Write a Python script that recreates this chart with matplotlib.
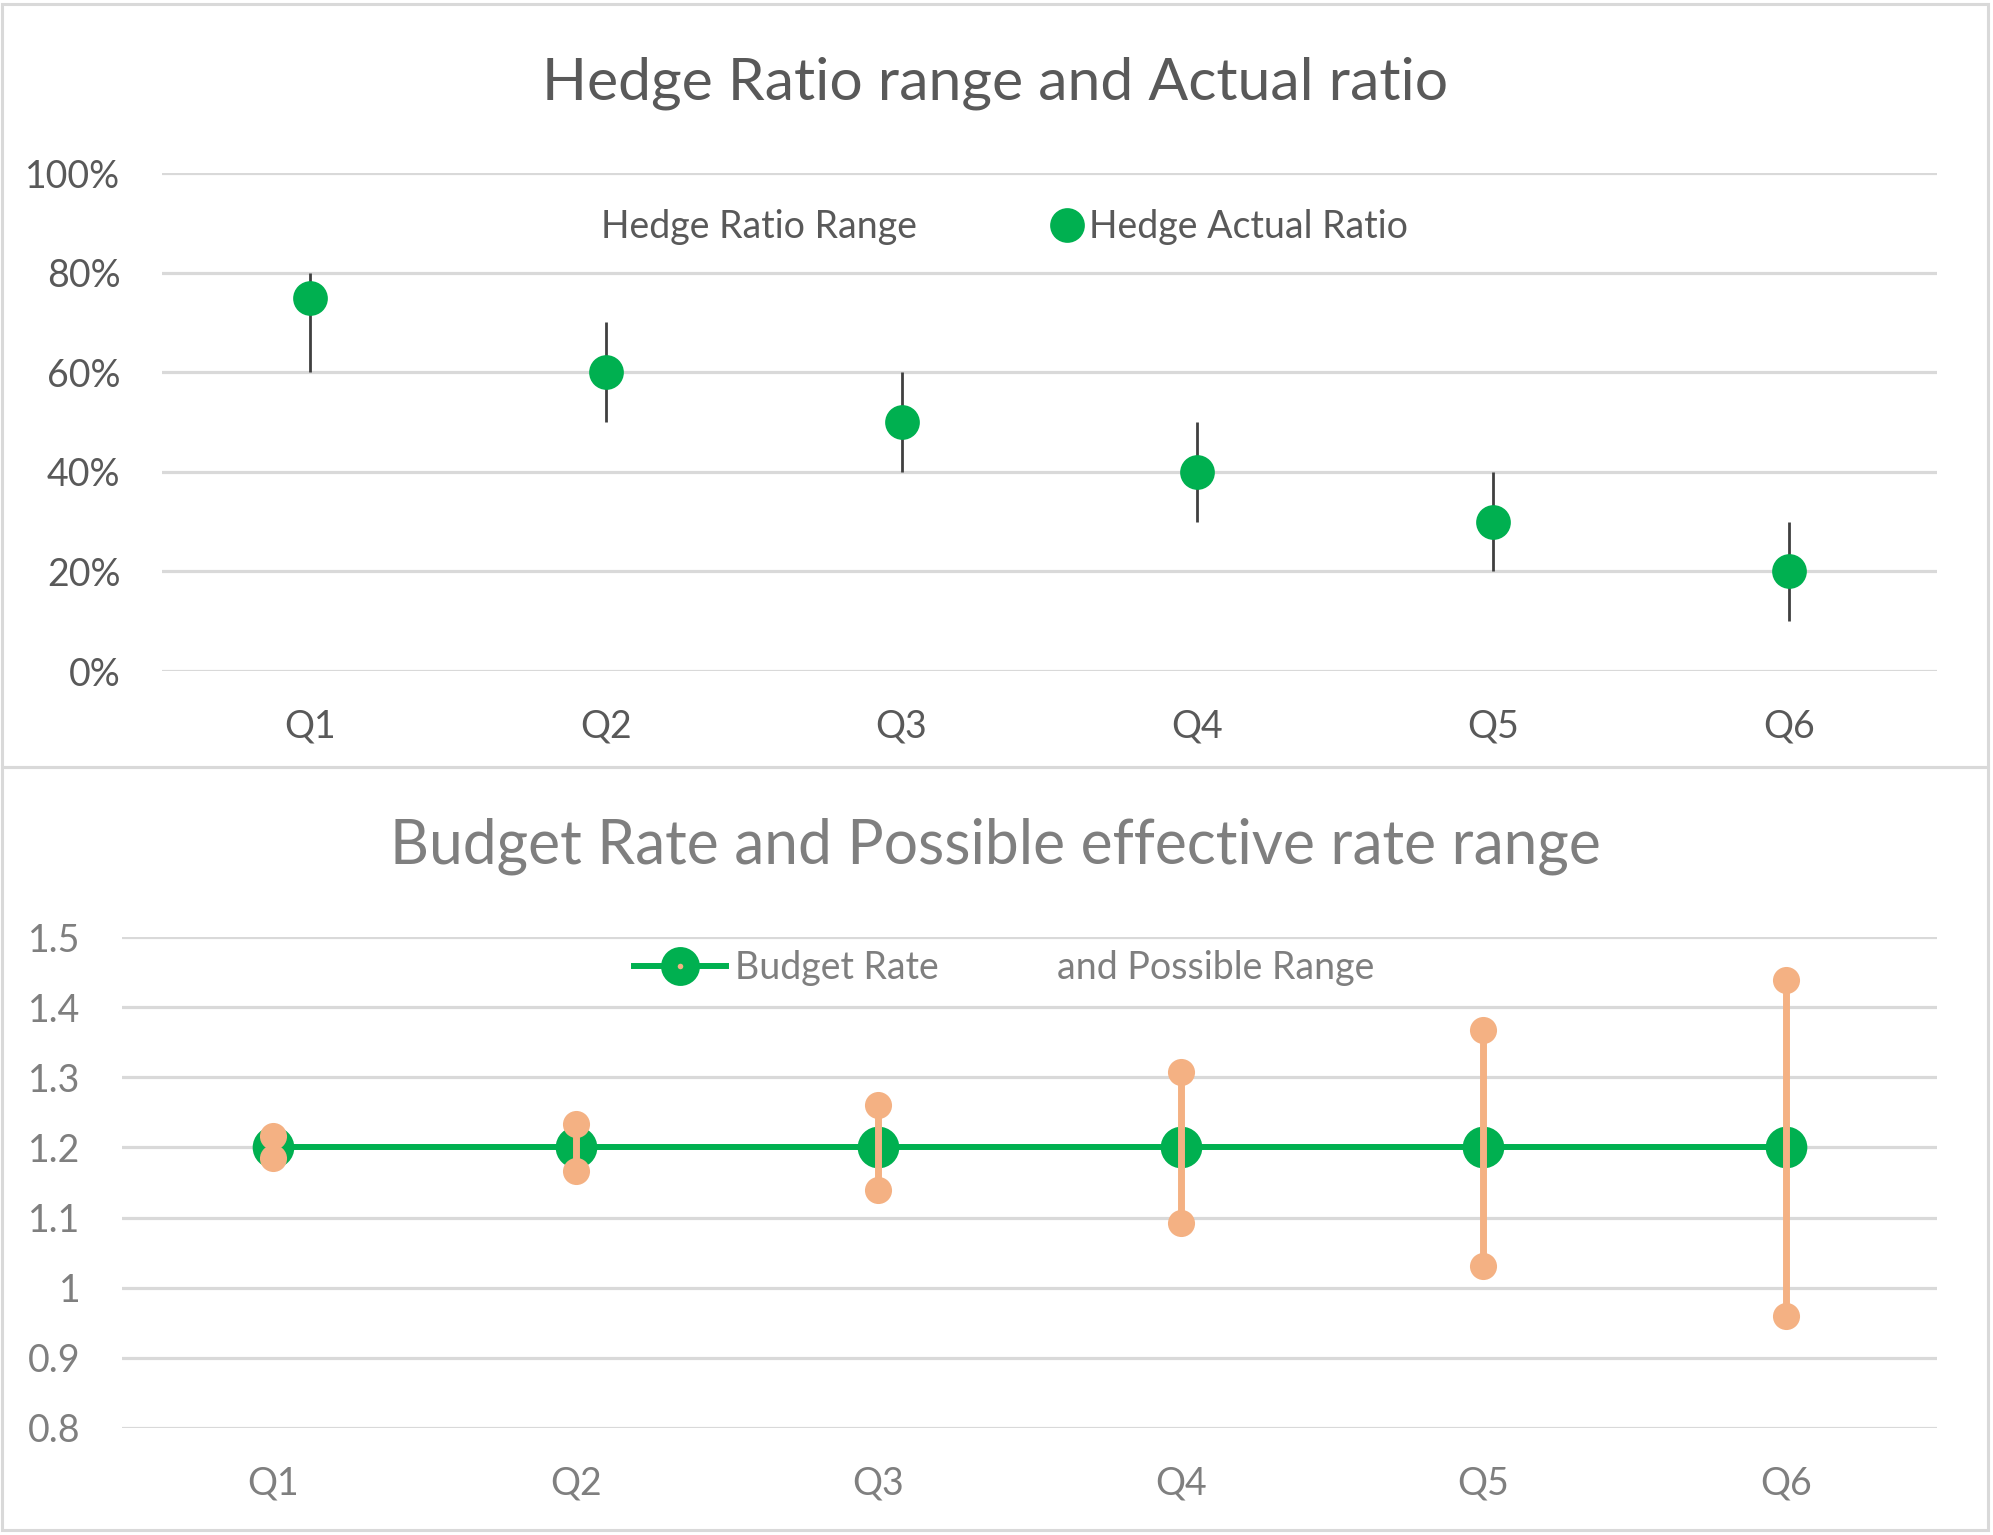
import numpy as np
import matplotlib
matplotlib.use("Agg")
import matplotlib.pyplot as plt
from matplotlib.lines import Line2D
from matplotlib.patches import Rectangle
from matplotlib.ticker import PercentFormatter, FixedLocator, FuncFormatter
from matplotlib.legend_handler import HandlerTuple

plt.rcParams["font.family"] = ["Lato", "DejaVu Sans"]

# ── data ───────────────────────────────────────────────
quarters = ["Q1", "Q2", "Q3", "Q4", "Q5", "Q6"]
hedge_low = [0.60, 0.50, 0.40, 0.30, 0.20, 0.10]
hedge_high = [0.80, 0.70, 0.60, 0.50, 0.40, 0.30]
hedge_actual = [0.75, 0.60, 0.50, 0.40, 0.30, 0.20]

budget_rate = [1.2, 1.2, 1.2, 1.2, 1.2, 1.2]
rate_low = [1.185, 1.166, 1.139, 1.092, 1.031, 0.960]
rate_high = [1.216, 1.234, 1.260, 1.307, 1.368, 1.439]

rate_ticks = [0.8, 0.9, 1.0, 1.1, 1.2, 1.3, 1.4, 1.5]
pct_ticks = [0.0, 0.2, 0.4, 0.6, 0.8, 1.0]

GREEN = "#00B050"
ORANGE = "#F4B183"
GRID = "#D9D9D9"
DARK = "#595959"
LIGHT = "#7F7F7F"

TICK_FS = 27

W, H = 1993, 1535
fig = plt.figure(figsize=(W / 100, H / 100), dpi=100)

# chart frames (two Excel charts stacked)
for y0, y1 in [(4, 767), (767, 1530)]:
    fig.patches.append(Rectangle((2 / W, 1 - y1 / H), 1986 / W, (y1 - y0) / H,
                                 transform=fig.transFigure, fill=False,
                                 edgecolor=GRID, lw=2.2, zorder=0))

x = np.arange(len(quarters))


def style_axes(ax, color):
    for s in ax.spines.values():
        s.set_visible(False)
    ax.grid(axis="y", color=GRID, lw=2.3)
    ax.set_axisbelow(True)
    ax.tick_params(length=0, labelsize=TICK_FS, labelcolor=color)
    ax.tick_params(axis="x", pad=27)
    ax.set_xticks(x)
    ax.set_xticklabels(quarters)
    ax.set_xlim(-0.5, len(quarters) - 0.5)


# ── top: hedge ratio ───────────────────────────────────
ax1 = fig.add_axes([162 / W, 1 - 671 / H, 1775 / W, 498 / H])
style_axes(ax1, DARK)
ax1.tick_params(axis="y", pad=30)
ax1.vlines(x, hedge_low, hedge_high, color="#404040", lw=2, zorder=2)
ax1.plot(x, hedge_actual, "o", color=GREEN, ms=25, mew=0, zorder=3)
ax1.set_ylim(0, 1)
ax1.yaxis.set_major_locator(FixedLocator(pct_ticks))
ax1.yaxis.set_major_formatter(PercentFormatter(1.0, decimals=0))

h_range = Line2D([], [], linestyle="none")
h_act = Line2D([], [], linestyle="none", marker="o", color=GREEN, ms=25, mew=0)
ax1.legend([h_range, h_act], ["Hedge Ratio Range", "Hedge Actual Ratio"],
           loc="center", bbox_to_anchor=(984 / W, 1 - 227 / H),
           bbox_transform=fig.transFigure, ncol=2, frameon=False,
           fontsize=TICK_FS, labelcolor=DARK, handlelength=1.0,
           handletextpad=0.08, columnspacing=3.5)

fig.text(0.4994, 1 - 99 / H, "Hedge Ratio range and Actual ratio",
         ha="center", va="baseline", fontsize=42.4, color=DARK)

# ── bottom: budget rate ────────────────────────────────
ax2 = fig.add_axes([122 / W, 1 - 1428 / H, 1815 / W, 491 / H])
style_axes(ax2, LIGHT)
ax2.tick_params(axis="y", pad=30)
ax2.plot(x, budget_rate, "-o", color=GREEN, lw=4.3, ms=30, mew=0, zorder=2)
ax2.vlines(x, rate_low, rate_high, color=ORANGE, lw=5, zorder=3)
ax2.plot(x, rate_low, "o", color=ORANGE, ms=19.5, mew=0, zorder=4)
ax2.plot(x, rate_high, "o", color=ORANGE, ms=19.5, mew=0, zorder=4)
ax2.set_ylim(0.8, 1.5)
ax2.yaxis.set_major_locator(FixedLocator(rate_ticks))
ax2.yaxis.set_major_formatter(FuncFormatter(lambda v, p: f"{v:g}"))

h_budget = Line2D([], [], color=GREEN, lw=4.3, marker="o", ms=28, mew=0)
h_dot = Line2D([], [], linestyle="none", marker="o", color=ORANGE, ms=4, mew=0)
h_poss = Line2D([], [], linestyle="none")
ax2.legend([(h_budget, h_dot), h_poss], ["Budget Rate", "and Possible Range"],
           handler_map={tuple: HandlerTuple(ndivide=1)},
           loc="center", bbox_to_anchor=(1004 / W, 1 - 968 / H),
           bbox_transform=fig.transFigure, ncol=2, frameon=False,
           fontsize=TICK_FS, labelcolor=LIGHT, handlelength=2.45,
           handletextpad=0.25, columnspacing=0.45)

fig.text(0.4994, 1 - 863 / H, "Budget Rate and Possible effective rate range",
         ha="center", va="baseline", fontsize=43.6, color=LIGHT)

fig.savefig("out.png", dpi=100, facecolor="white")
